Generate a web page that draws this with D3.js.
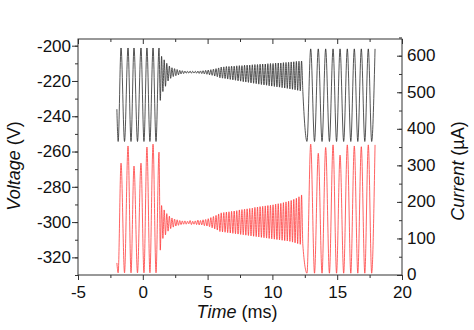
<!DOCTYPE html>
<html><head><meta charset="utf-8">
<script src="https://cdn.jsdelivr.net/npm/d3@7"></script>
<style>
body{margin:0;background:#fff}
svg{display:block}
text{font-family:"Liberation Sans",Arial,Helvetica,sans-serif}
</style>
</head><body>
<svg id="chart" width="474" height="330"></svg>
<script>
// ---------------- data ----------------
const xTicks = [-5, 0, 5, 10, 15, 20];
const voltTicks = [-200, -220, -240, -260, -280, -300, -320];
const currTicks = [0, 100, 200, 300, 400, 500, 600];

// Voltage (black, left axis): spiking phase before the quiet interval, [ms, V]
const voltSpikesA = [[-2.00,-236],[-1.90,-254.3],[-1.68,-201.3],[-1.41,-254.3],[-1.14,-201.3],[-0.91,-254.3],
  [-0.68,-201.3],[-0.41,-254.3],[-0.14,-201.3],[0.09,-254.3],[0.32,-201.3],[0.55,-254.3],[0.79,-201.3],
  [1.02,-254.3],[1.25,-201.3]];
// Middle (damped then growing) oscillation, sampled every 0.1 ms from 1.35 ms
const midStart = 1.35, midStep = 0.1;
const voltMid = [-231,-206,-226,-208,-223,-210,-220,-211.5,-218.5,-212.5,-217.5,-213,-217,-213.5,-216.5,-214,-216,-214.2,-215.8,
  -214.4,-215.6,-214.5,-215.5,-214.4,-215.6,-214.5,-215.5,-214.5,-215.6,-214.4,-215.7,-214.3,-215.8,-214.2,-216.0,-214.0,-216.2,
  -213.8,-216.5,-213.6,-216.8,-213.3,-217.2,-213.0,-217.6,-212.6,-218.2,
  -212.1,-218.4,-212.0,-218.6,-211.8,-218.9,-211.8,-219.1,-211.6,-219.4,-211.6,-219.6,-211.4,-219.9,-211.3,-220.1,
  -211.3,-220.4,-211.1,-220.6,-211.0,-220.8,-211.0,-221.1,-210.8,-221.3,-210.7,-221.5,-210.7,-221.8,-210.5,-222.0,
  -210.4,-222.2,-210.4,-222.4,-210.2,-222.7,-210.1,-222.9,-210.1,-223.1,-209.9,-223.3,-209.8,-223.5,-209.8,-223.8,
  -209.6,-224.0,-209.5,-224.2,-209.4,-224.5,-209.2,-224.7,-209.1,-225.0,-208.9,-225.3,-208.8,-225.6,-208.7,-226.0];
// Spiking phase after the quiet interval
const voltSpikesC = [[12.67,-254.3],[12.955,-201.8],[13.25,-254.3],[13.54,-201.8],[13.83,-254.3],[14.11,-201.8],
  [14.40,-254.3],[14.68,-201.8],[14.95,-254.3],[15.22,-201.8],[15.50,-254.3],[15.78,-201.8],[16.05,-254.3],
  [16.32,-201.8],[16.59,-254.3],[16.86,-201.8],[17.13,-254.3],[17.40,-201.8],[17.66,-254.3],[17.92,-201.8]];

// Current (red, right axis), [ms, µA]
const currSpikesA = [[-2.00,33],[-1.90,6],[-1.68,306],[-1.41,6],[-1.14,353],[-0.91,6],[-0.68,298],[-0.41,6],
  [-0.14,306],[0.09,6],[0.32,350],[0.55,6],[0.79,358],[1.02,6],[1.25,336]];
const currMid = [68,190,100,178,110,168,120,161,127,156,131,153,134,151,136,149,138,148,139,
  148,139,147,140,149,138,147,139,148,138,150,137,149,137,151,135,152,134,154,132,157,129,160,126,163,123,167,119,
  170,118,171,117,172,116,173,115,174,114,175,113,176,112,178,111,179,110,180,109,181,108,182,107,183,106,
  185,105,186,104,187,103,188,102,189,101,190,100,191,99,192,98,194,97,195,96,196,95,198,94,200,93,
  202,92,204,90,207,88,210,86,214,84,219,82];
const currSpikesC = [[12.67,5],[12.955,358],[13.25,5],[13.54,333],[13.83,5],[14.11,349],[14.40,5],[14.68,356],
  [14.95,5],[15.22,328],[15.50,5],[15.78,356],[16.05,5],[16.32,353],[16.59,5],[16.86,351],[17.13,5],
  [17.40,356],[17.66,5],[17.92,356]];

// ---------------- drawing ----------------
const svg = d3.select("#chart");
const L = 78, R = 402, T = 39, B = 275;
const FS = 17;
const x = d3.scaleLinear().domain([-5, 20]).range([L, R]);
const yV = d3.scaleLinear().domain([-330, -196.2]).range([B, T]);
const yI = d3.scaleLinear().domain([0, 645.7]).range([B, T]);

const midPts = arr => arr.map((v, i) => [midStart + i * midStep, v]);
const voltage = voltSpikesA.concat(midPts(voltMid), voltSpikesC);
const current = currSpikesA.concat(midPts(currMid), currSpikesC);

const lineV = d3.line().x(d => x(d[0])).y(d => yV(d[1])).curve(d3.curveMonotoneX);
const lineI = d3.line().x(d => x(d[0])).y(d => yI(d[1])).curve(d3.curveMonotoneX);

svg.append("path").attr("d", lineI(current)).attr("fill", "none")
  .attr("stroke", "#ff3a3a").attr("stroke-width", 0.8);
svg.append("path").attr("d", lineV(voltage)).attr("fill", "none")
  .attr("stroke", "#2a2a2a").attr("stroke-width", 0.8);

const axCol = "#333";
const fmt = d => String(d);   // plain hyphen-minus, as in the original
function style(g) {
  g.select(".domain").remove();
  g.selectAll("line").attr("stroke", axCol).attr("stroke-width", 1);
  g.selectAll("text").attr("font-size", FS).attr("fill", "#111")
    .style("font-family", '"Liberation Sans",Arial,sans-serif');
}
const range = (a, b, s) => d3.range(a, b + s / 2, s);

// bottom
svg.append("g").attr("transform", `translate(0,${B})`)
  .call(d3.axisBottom(x).tickValues(xTicks).tickSize(5).tickPadding(6).tickFormat(fmt))
  .call(style);
svg.append("g").attr("transform", `translate(0,${B})`)
  .call(d3.axisBottom(x).tickValues(range(-2.5, 17.5, 5)).tickSize(3).tickFormat(""))
  .call(style);
// top (inward)
svg.append("g").attr("transform", `translate(0,${T})`)
  .call(d3.axisTop(x).tickValues(xTicks).tickSize(-5).tickFormat(""))
  .call(style);
svg.append("g").attr("transform", `translate(0,${T})`)
  .call(d3.axisTop(x).tickValues(range(-2.5, 17.5, 5)).tickSize(-3).tickFormat(""))
  .call(style);
// left
svg.append("g").attr("transform", `translate(${L},0)`)
  .call(d3.axisLeft(yV).tickValues(voltTicks).tickSize(6).tickPadding(1).tickFormat(fmt))
  .call(style);
svg.append("g").attr("transform", `translate(${L},0)`)
  .call(d3.axisLeft(yV).tickValues(range(-330, -200, 10)).tickSize(3).tickFormat(""))
  .call(style);
// right (inward ticks)
svg.append("g").attr("transform", `translate(${R},0)`)
  .call(d3.axisRight(yI).tickValues(currTicks).tickSize(-5).tickPadding(5).tickFormat(fmt))
  .call(style)
  .call(g => g.selectAll("text").attr("dy", "0.28em"));
svg.append("g").attr("transform", `translate(${R},0)`)
  .call(d3.axisRight(yI).tickValues(range(50, 650, 50)).tickSize(-3).tickFormat(""))
  .call(style);

// frame
svg.append("rect").attr("x", L).attr("y", T).attr("width", R - L).attr("height", B - T)
  .attr("fill", "none").attr("stroke", axCol).attr("stroke-width", 1);

// titles
function title(tx, ty, rot, ital, rest) {
  const t = svg.append("text").attr("transform", `translate(${tx},${ty}) rotate(${rot})`)
    .attr("text-anchor", "middle").attr("font-size", FS + 1).attr("fill", "#111");
  t.append("tspan").attr("font-style", "italic").text(ital);
  t.append("tspan").text(rest);
}
title(237, 318, 0, "Time", " (ms)");
title(20, 166, -90, "Voltage", " (V)");
title(464, 171, -90, "Current", " (\u00B5A)");
</script>
</body></html>
